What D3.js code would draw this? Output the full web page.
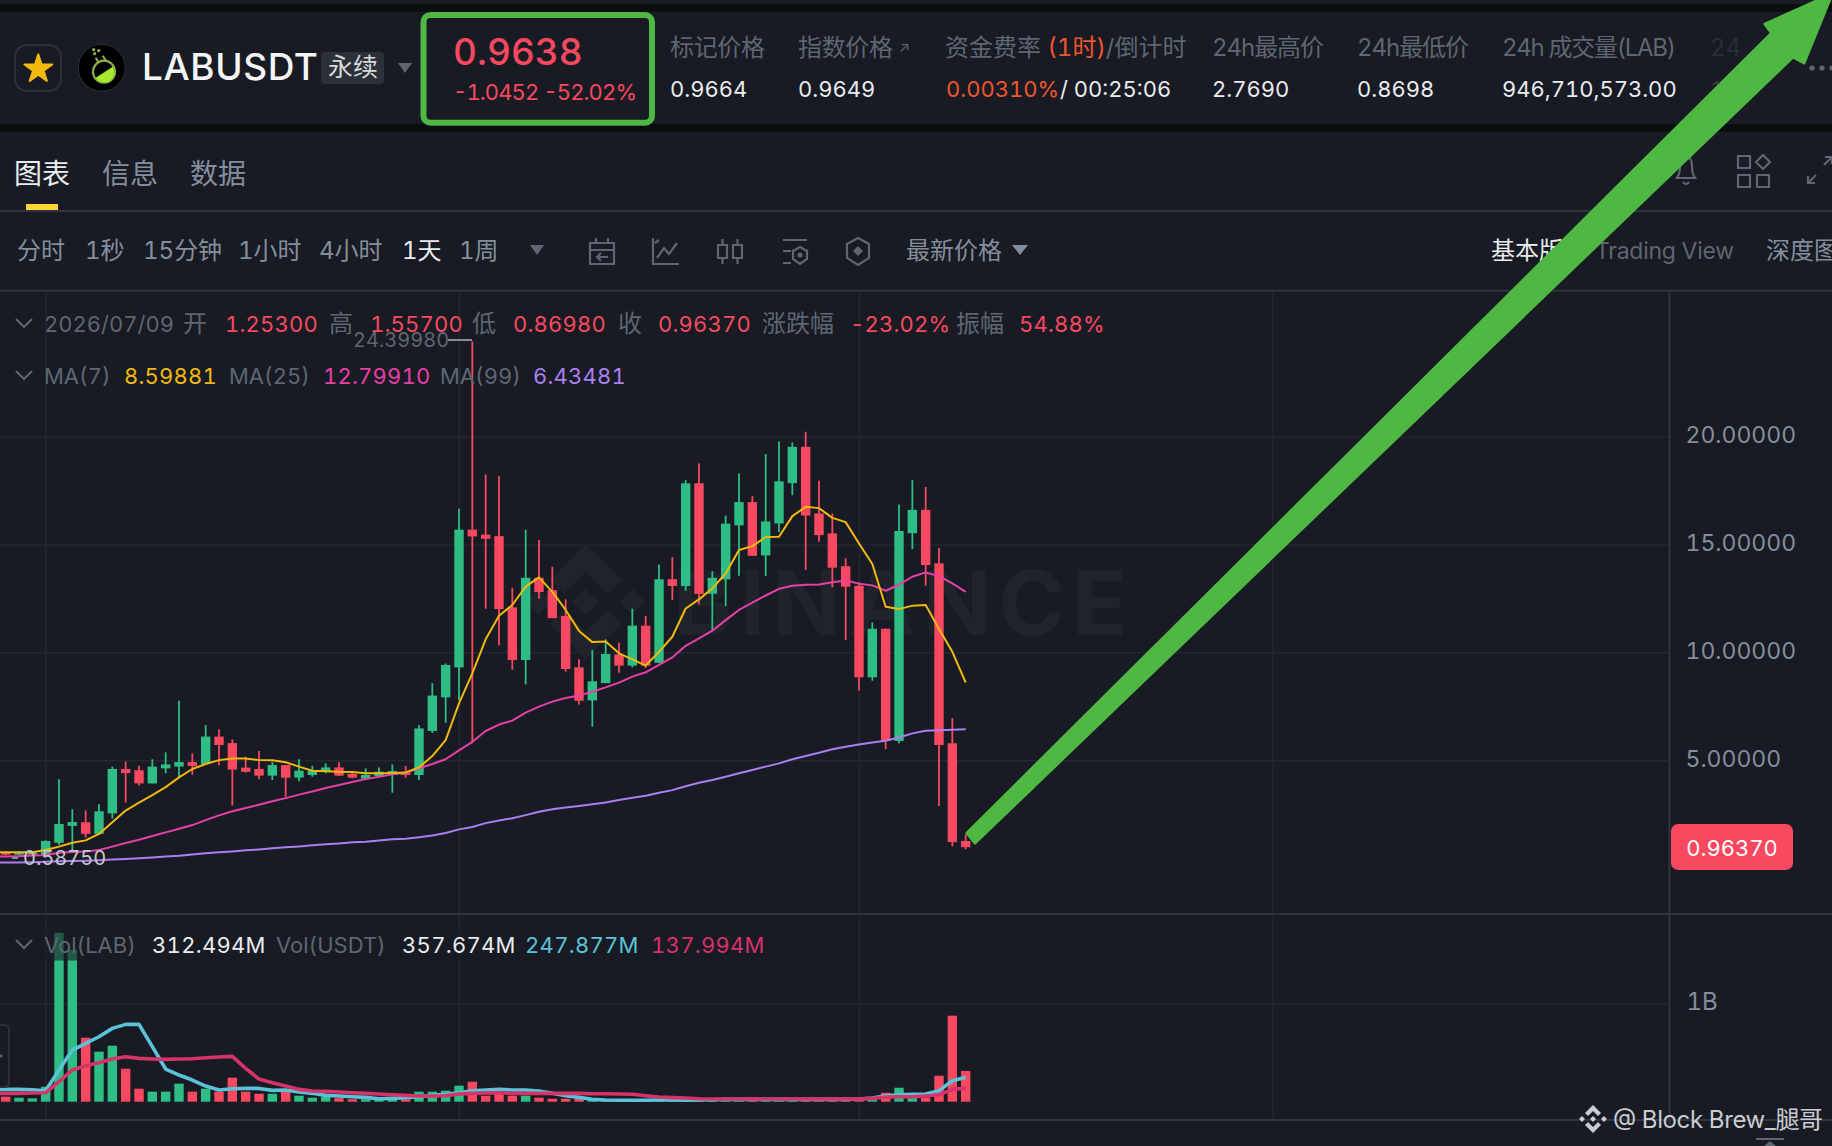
<!DOCTYPE html>
<html>
<head>
<meta charset="utf-8">
<script src="https://d3js.org/d3.v7.min.js"></script>
<style>
  html, body { margin: 0; padding: 0; background: #181b23; overflow: hidden; }
  svg { display: block; }
  text { font-family: Inter, "Noto Sans CJK SC", sans-serif; font-variant-numeric: tabular-nums; }
</style>
</head>
<body>
<div id="chart"></div>
<script>
// daily candles, first one is 2026-04-27 (just off the left edge), last one 2026-07-09
const firstDay = "2026-04-27";
const opens = [0.70,0.72,0.62,0.62,0.60,1.17,1.95,2.12,1.58,2.53,4.59,4.53,3.92,4.62,4.70,4.91,4.82,6.09,5.79,4.65,4.59,4.28,4.77,4.19,4.31,4.46,4.66,4.36,4.14,4.26,4.31,4.46,4.31,6.35,7.91,9.30,15.68,15.45,15.38,12.08,9.64,13.45,12.88,11.68,9.30,7.77,8.57,9.90,9.38,11.23,9.51,13.38,13.07,17.83,12.71,13.38,15.88,16.96,14.49,15.97,17.84,19.52,16.43,15.51,13.99,13.08,8.84,11.09,5.89,15.52,16.60,14.12,5.78,1.253];
const highs = [0.75,0.76,0.76,0.75,1.28,4.11,2.73,2.67,2.95,4.70,4.93,4.74,5.04,5.36,7.75,5.31,6.63,6.43,5.96,5.16,5.42,4.91,4.77,5.04,4.74,4.85,4.91,4.46,4.62,4.66,4.80,4.73,6.63,8.57,9.48,16.65,24.3998,18.24,18.16,12.99,15.68,15.20,13.96,12.45,9.68,10.10,10.60,10.44,12.02,11.69,14.07,14.41,17.98,18.75,13.75,16.33,18.29,17.24,19.18,19.77,19.73,20.22,17.95,16.43,14.36,13.24,11.38,11.09,16.85,17.98,17.66,14.83,6.94,1.557];
const lows = [0.65,0.59,0.59,0.60,0.5875,1.07,0.76,1.41,1.53,2.29,3.03,3.82,3.92,4.39,4.16,4.32,4.82,4.76,2.89,4.42,4.11,4.08,3.31,4.02,4.23,4.39,4.26,4.16,4.11,4.23,3.49,4.19,4.08,6.26,6.73,7.78,5.78,12.02,10.32,9.19,8.51,12.48,11.58,9.10,7.58,6.55,8.57,9.05,9.30,9.27,9.51,12.42,12.85,12.22,11.03,12.14,13.55,14.47,13.53,15.57,17.28,13.81,15.12,13.01,10.57,8.23,8.68,5.51,5.78,14.78,13.08,2.87,1.00,0.8698];
const closes = [0.72,0.62,0.72,0.72,1.25,2.04,2.13,1.58,2.63,4.59,4.40,3.92,4.70,4.80,4.91,4.73,6.09,5.70,4.56,4.46,4.28,4.77,4.19,4.51,4.51,4.66,4.28,4.19,4.31,4.46,4.49,4.31,6.47,7.99,9.41,15.68,15.37,15.26,12.00,9.64,13.45,12.79,11.58,9.22,7.75,8.65,9.92,9.38,11.23,9.38,13.38,13.07,17.83,12.70,13.45,15.96,16.96,14.47,16.06,17.92,19.52,16.34,15.43,13.92,13.04,8.84,11.09,5.89,15.62,16.60,14.04,5.70,1.20,0.9637];

const ma7 = [0.73,0.73,0.73,0.73,0.83,0.99,1.17,1.28,1.58,2.12,2.66,3.03,3.38,3.75,4.20,4.59,4.82,5.00,5.08,5.07,5.00,4.99,4.90,4.70,4.51,4.49,4.46,4.45,4.39,4.39,4.40,4.43,4.66,5.19,5.93,7.63,9.02,10.60,11.69,12.19,13.04,13.47,12.80,11.96,10.99,10.47,10.50,9.95,9.67,9.38,10.02,10.72,12.03,12.45,12.96,13.65,14.74,14.92,15.34,15.35,16.31,16.74,16.68,16.23,16.03,15.04,14.09,12.11,12.00,12.16,12.19,11.08,10.02,8.59881];
const ma25 = [0.53,0.53,0.55,0.58,0.60,0.71,0.74,0.76,0.83,0.99,1.16,1.31,1.48,1.65,1.82,1.99,2.22,2.44,2.63,2.78,2.93,3.09,3.24,3.40,3.55,3.71,3.85,3.99,4.12,4.23,4.34,4.42,4.62,4.82,5.04,5.45,5.85,6.35,6.65,6.83,7.20,7.48,7.71,7.88,8.00,8.17,8.37,8.59,8.87,9.07,9.41,9.76,10.30,10.64,11.00,11.49,11.96,12.30,12.63,12.94,13.08,13.13,13.14,13.24,13.33,13.18,13.10,12.85,13.13,13.50,13.70,13.53,13.19,12.7991];
const ma99 = [0.25,0.25,0.26,0.27,0.29,0.31,0.33,0.34,0.36,0.39,0.42,0.45,0.49,0.53,0.57,0.63,0.68,0.73,0.77,0.82,0.86,0.91,0.96,1.00,1.05,1.10,1.14,1.19,1.22,1.28,1.33,1.36,1.42,1.51,1.62,1.79,1.90,2.08,2.20,2.31,2.45,2.61,2.72,2.80,2.87,2.95,3.04,3.15,3.26,3.35,3.49,3.61,3.79,3.95,4.08,4.23,4.39,4.54,4.70,4.85,5.04,5.19,5.34,5.50,5.62,5.72,5.82,5.90,6.05,6.24,6.36,6.39,6.41,6.43481];

// volume in millions of LAB
const volumes = [60,51,41,34,152,1717,1544,650,508,569,335,132,102,102,183,102,132,102,244,102,81,81,102,61,41,51,36,25,25,20,30,25,102,102,112,163,203,61,81,61,61,41,30,30,30,25,25,20,20,15,15,12,15,10,10,15,15,15,15,15,15,20,15,15,15,15,20,91,142,41,41,264,874,312.494];
const volMa5 = [125,125,125,122,112,322,525,593,660,745,786,786,559,332,271,220,159,119,132,135,135,115,119,98,85,64,58,51,44,30,34,41,51,64,75,91,112,119,125,119,119,108,85,61,44,24,17,14,14,14,17,17,14,17,20,24,24,24,24,24,24,24,24,24,24,27,37,61,71,75,78,112,213,247.877];
const volMa10 = [85,85,85,88,91,203,322,366,396,434,457,440,434,430,434,437,447,454,461,339,230,193,159,125,108,105,98,91,85,78,71,64,58,58,61,78,85,88,91,85,85,85,85,85,85,81,81,78,75,61,47,41,37,30,27,27,27,27,27,27,27,27,27,27,27,27,34,47,51,51,58,71,125,137.994];

const priceTicks = [5, 10, 15, 20];
const volTicks = [1000];
const monthStarts = ["2026-05-01", "2026-06-01", "2026-07-01", "2026-08-01"];

// header texts
const statLabels = ["标记价格", "指数价格", "24h最高价", "24h最低价", "24h 成交量(LAB)"];
const statWidths = [95, 95, 112, 112, 174];
const statValues = ["0.9664", "0.9649", "2.7690", "0.8698", "946,710,573.00"];
const statX = [670, 798, 1212, 1357, 1502];
const tabNames = ["图表", "信息", "数据"];
const tabX = [14, 102, 190];
const intervals = ["分时", "1秒", "15分钟", "1小时", "4小时", "1天", "1周"];
const intervalX = [17, 85, 143, 238, 319, 402, 459];
const legendOhlc = ["开", "1.25300", "高", "1.55700", "低", "0.86980", "收", "0.96370", "涨跌幅", "-23.02%", "振幅", "54.88%"];
const legendOhlcX = [183, 225, 329, 370, 472, 513, 618, 658, 762, 850, 956, 1019];

const W = 1832, H = 1146;
const axisX = 1669.5, paneTop = 291, paneMid = 914, paneBottom = 1120;
const c = {
  bg: "#181b23", dark: "#0b0e11", line: "#2f3440", grid: "#23272f",
  up: "#2ebd85", down: "#f84960", muted: "#5e6673", tick: "#848e9c", white: "#eaecef",
  yellow: "#f0b90b", pink: "#e83fa8", purple: "#ab7ff0", teal: "#5bc2d8", crimson: "#d5336a",
  arrow: "#4fb843", wm: "#20232a"
};

const svg = d3.select("#chart").append("svg").attr("width", W).attr("height", H);
svg.append("rect").attr("width", W).attr("height", H).attr("fill", c.bg);

const parse = d3.utcParse("%Y-%m-%d");
const dates = opens.map((d, i) => d3.utcDay.offset(parse(firstDay), i));

const x = d3.scaleUtc().domain([dates[0], dates[dates.length - 1]]).range([-7.67, 965.67]);
const y = d3.scaleLinear().domain([0, 20]).range([868, 436.5]);
const yVol = d3.scaleLinear().domain([0, 1000]).range([1101.7, 1003.3]);

function label(g, txt, px, py, size, fill, anchor) {
  return g.append("text").attr("x", px).attr("y", py).attr("font-size", size)
    .attr("fill", fill).attr("text-anchor", anchor || "start").text(txt);
}
function hline(g, x1, x2, py, col, w) {
  g.append("line").attr("x1", x1).attr("x2", x2).attr("y1", py).attr("y2", py).attr("stroke", col).attr("stroke-width", w);
}

// top bar
const head = svg.append("g");
head.append("rect").attr("y", 4).attr("width", W).attr("height", 8).attr("fill", c.dark);
head.append("rect").attr("y", 124).attr("width", W).attr("height", 8).attr("fill", c.dark);

head.append("rect").attr("x", 15).attr("y", 45).attr("width", 46).attr("height", 46).attr("rx", 12)
  .attr("fill", "none").attr("stroke", "#2b303b").attr("stroke-width", 2);
head.append("path").attr("transform", "translate(38.3,69)")
  .attr("d", d3.symbol(d3.symbolStar, 240)()).attr("fill", "#f3b90c").attr("stroke", "#f3b90c")
  .attr("stroke-width", 2).attr("stroke-linejoin", "round");

// coin logo, little flask
const logo = head.append("g").attr("transform", "translate(101.7,67.7)");
logo.append("circle").attr("r", 23.5).attr("fill", "#000").attr("stroke", "#2b303b").attr("stroke-width", 1);
logo.append("circle").attr("cx", 2.3).attr("cy", 4).attr("r", 11).attr("fill", "none").attr("stroke", "#8fae4a").attr("stroke-width", 2.2);
logo.append("path").attr("d", "M-6,-10 L-3,-5 M1,-12 L5,-6").attr("stroke", "#8fae4a").attr("stroke-width", 2);
logo.append("path").attr("d", "M-6,10 L11,-1 A10,10 0 0 1 -6,10 Z").attr("fill", "#a8ea2c");
logo.selectAll("circle.b").data([[-7, -14], [-3, -17], [-8, -18]]).enter().append("circle")
  .attr("cx", d => d[0]).attr("cy", d => d[1]).attr("r", 1.6).attr("fill", "#8fae4a");

label(head, "LABUSDT", 142, 80, 37, "#f4f5f6").attr("font-weight", 500).attr("textLength", 176);
head.append("rect").attr("x", 321).attr("y", 52).attr("width", 63).attr("height", 32).attr("rx", 4).attr("fill", "#2b3039");
label(head, "永续", 328, 76, 25, "#d5d8dc");
head.append("path").attr("d", "M398,63 L412,63 L405,73 Z").attr("fill", c.muted);

head.append("rect").attr("x", 423.5).attr("y", 15).attr("width", 228.5).attr("height", 107.7).attr("rx", 7)
  .attr("fill", "none").attr("stroke", c.arrow).attr("stroke-width", 6);
label(head, "0.9638", 453, 65, 37, c.down).attr("font-weight", 500);
label(head, "-1.0452 -52.02%", 453, 100, 22, c.down).attr("textLength", 184);

statLabels.forEach((t, i) => label(head, t, statX[i], 56, 24, c.muted).attr("textLength", statWidths[i]));
statValues.forEach((t, i) => label(head, t, statX[i], 97, 22, c.white));
label(head, "↗", 899, 52, 14, c.muted);

const fund = label(head, "资金费率 ", 945, 56, 24, c.muted);
fund.append("tspan").attr("fill", "#f0562d").text("(1时)");
fund.append("tspan").text("/倒计时");
label(head, "0.00310%", 946, 97, 22, "#f0562d");
label(head, "/ 00:25:06", 1060, 97, 22, c.white);
label(head, "24", 1710, 56, 24, c.muted).attr("opacity", 0.25);
label(head, "1", 1710, 97, 22, c.white).attr("opacity", 0.15);
head.selectAll("circle.dot").data([0, 1, 2]).enter().append("circle")
  .attr("cx", d => 1812 + d * 10).attr("cy", 68).attr("r", 2.6).attr("fill", c.muted);

// tabs and toolbar
const bar = svg.append("g");
tabNames.forEach((t, i) => label(bar, t, tabX[i], 184, 28, i == 0 ? c.white : c.tick));
bar.append("rect").attr("x", 26).attr("y", 204).attr("width", 32).attr("height", 6).attr("fill", "#fcd535");
hline(bar, 0, W, 211, c.line, 2);
hline(bar, 0, W, 290.7, c.line, 2);
intervals.forEach((t, i) => label(bar, t, intervalX[i], 259, 24, t == "1天" ? c.white : c.tick));
bar.append("path").attr("d", "M530,245 L544,245 L537,255 Z").attr("fill", c.muted);

const iconPaths = [
  "M590,243 H614 V264 H590 Z M590,250 H614 M596,238 V243 M608,238 V243 M608,257 H597 M601,253 L597,257 L601,261",
  "M653,238 V264 H679 M657,258 L664,248 L669,254 L677,243 M655,243 L659,240",
  "M718,245 H727 V258 H718 Z M722.5,239 V245 M722.5,258 V264 M733,245 H742 V258 H733 Z M737.5,239 V245 M737.5,258 V264",
  "M783,240 H807 M783,251 H791 M783,263 H791 M800,247 L807,251 V259 L800,264 L793,259 V251 Z",
  "M858,238 L869,244 V258 L858,265 L847,258 V244 Z"
];
bar.selectAll("path.icon").data(iconPaths).enter().append("path").attr("d", d => d)
  .attr("fill", "none").attr("stroke", c.muted).attr("stroke-width", 2.2);
bar.append("circle").attr("cx", 800).attr("cy", 255).attr("r", 2.5).attr("fill", c.muted);
bar.append("path").attr("d", "M858,246 L863,251 L858,256 L853,251 Z").attr("fill", c.muted);

label(bar, "最新价格", 906, 259, 24, c.tick);
bar.append("path").attr("d", "M1012,245 L1028,245 L1020,255 Z").attr("fill", c.tick);
label(bar, "基本版", 1491, 259, 24, c.white);
label(bar, "Trading View", 1595, 259, 23, c.muted).attr("textLength", 139);
label(bar, "深度图", 1766, 259, 24, c.tick);

const topIcons = [
  "M1677,178 Q1680,174 1680,166 Q1680,157 1686,157 Q1692,157 1692,166 Q1692,174 1695,178 Z M1683,182 Q1686,186 1689,182",
  "M1738,156 H1750 V168 H1738 Z M1738,175 H1750 V187 H1738 Z M1757,175 H1769 V187 H1757 Z M1763,155 L1770,162 L1763,169 L1756,162 Z",
  "M1808,183 L1816,175 M1808,176 V183 H1815 M1824,165 L1832,157 M1825,157 H1832 V164"
];
bar.selectAll("path.top").data(topIcons).enter().append("path").attr("d", d => d)
  .attr("fill", "none").attr("stroke", c.muted).attr("stroke-width", 2.2);

// grid, from scales
const gridG = svg.append("g");
gridG.append("g").attr("transform", `translate(0,${paneTop})`)
  .call(d3.axisBottom(x).tickValues(monthStarts.map(parse)).tickSize(paneBottom - paneTop).tickFormat(""))
  .call(g => g.select(".domain").remove())
  .selectAll("line").attr("stroke", c.grid).attr("stroke-width", 1.5);
gridG.append("g").attr("transform", `translate(${axisX},0)`)
  .call(d3.axisLeft(y).tickValues(priceTicks).tickSize(axisX).tickFormat(""))
  .call(g => g.select(".domain").remove())
  .selectAll("line").attr("stroke", c.grid).attr("stroke-width", 1.5);
gridG.append("g").attr("transform", `translate(${axisX},0)`)
  .call(d3.axisLeft(yVol).tickValues(volTicks).tickSize(axisX).tickFormat(""))
  .call(g => g.select(".domain").remove())
  .selectAll("line").attr("stroke", c.grid).attr("stroke-width", 1.5);

hline(gridG, 0, W, paneMid, c.line, 2);
hline(gridG, 0, W, paneBottom, c.line, 2);
gridG.append("line").attr("x1", axisX).attr("x2", axisX).attr("y1", paneTop).attr("y2", paneBottom + 8)
  .attr("stroke", c.line).attr("stroke-width", 2);

// price and volume axis labels
svg.append("g").attr("transform", `translate(${axisX},-1)`)
  .call(d3.axisRight(y).tickValues(priceTicks).tickSize(0).tickPadding(16).tickFormat(d => d.toFixed(5)))
  .call(g => g.select(".domain").remove())
  .selectAll("text").attr("font-size", 23).attr("font-family", "Inter").attr("fill", c.tick);
svg.append("g").attr("transform", `translate(${axisX},-1)`)
  .call(d3.axisRight(yVol).tickValues(volTicks).tickSize(0).tickPadding(17).tickFormat(() => "1B"))
  .call(g => g.select(".domain").remove())
  .selectAll("text").attr("font-size", 24).attr("font-family", "Inter").attr("fill", c.tick);

// watermark
const wm = svg.append("g").attr("fill", c.wm);
const wmLogo = wm.append("g").attr("transform", "translate(585.7,601.7)");
wmLogo.append("path").attr("d", "M0,-58 L36,-22 L22,-8 L0,-30 L-22,-8 L-36,-22 Z");
wmLogo.append("path").attr("d", "M0,58 L36,22 L22,8 L0,30 L-22,8 L-36,22 Z");
wmLogo.append("path").attr("d", "M0,-13 L13,0 L0,13 L-13,0 Z");
wmLogo.append("path").attr("d", "M-47,-13 L-34,0 L-47,13 L-60,0 Z");
wmLogo.append("path").attr("d", "M47,-13 L60,0 L47,13 L34,0 Z");
wm.append("text").attr("x", 673).attr("y", 635).attr("font-size", 90).attr("font-weight", 700)
  .attr("textLength", 454).attr("lengthAdjust", "spacing").text("BINANCE");

// candles
const idx = d3.range(opens.length);
const colorAt = i => closes[i] >= opens[i] ? c.up : c.down;
const bodyW = 9.4;

const candles = svg.append("g");
candles.selectAll("line").data(idx).enter().append("line")
  .attr("x1", i => x(dates[i])).attr("x2", i => x(dates[i]))
  .attr("y1", i => y(highs[i])).attr("y2", i => y(lows[i]))
  .attr("stroke", colorAt).attr("stroke-width", 1.8);
candles.selectAll("rect").data(idx).enter().append("rect")
  .attr("x", i => x(dates[i]) - bodyW / 2)
  .attr("y", i => y(Math.max(opens[i], closes[i])))
  .attr("width", bodyW)
  .attr("height", i => Math.abs(y(opens[i]) - y(closes[i])))
  .attr("fill", colorAt);

// moving averages
function drawLine(vals, scale, col, w) {
  svg.append("path").datum(vals)
    .attr("d", d3.line().x((d, i) => x(dates[i])).y(d => scale(d)))
    .attr("fill", "none").attr("stroke", col).attr("stroke-width", w).attr("stroke-linejoin", "round");
}
drawLine(ma99, y, c.purple, 2);
drawLine(ma25, y, c.pink, 2);
drawLine(ma7, y, c.yellow, 2);

// volume bars
svg.append("g").selectAll("rect").data(idx).enter().append("rect")
  .attr("x", i => x(dates[i]) - bodyW / 2)
  .attr("y", i => yVol(volumes[i]))
  .attr("width", bodyW)
  .attr("height", i => yVol(0) - yVol(volumes[i]))
  .attr("fill", colorAt);
drawLine(volMa5, yVol, c.teal, 3.6);
drawLine(volMa10, yVol, c.crimson, 3.6);

// the volume legend sits on a see-through strip
svg.append("rect").attr("x", 0).attr("y", 931).attr("width", 770).attr("height", 29.5).attr("fill", c.bg).attr("opacity", 0.62);

// legends over the chart
const leg = svg.append("g");
const chevron = py => leg.append("path").attr("d", `M16,${py - 4} L24,${py + 4} L32,${py - 4}`)
  .attr("fill", "none").attr("stroke", c.muted).attr("stroke-width", 2);
chevron(323); chevron(375); chevron(944);

label(leg, "2026/07/09", 44, 332, 22, c.muted);
legendOhlc.forEach((t, i) => label(leg, t, legendOhlcX[i], 332, i % 2 ? 22 : 24, i % 2 ? c.down : c.muted).attr("letter-spacing", i % 2 ? 0.2 : 0));
label(leg, "24.39980", 353, 347, 20, c.muted);
hline(leg, 448, 472, 340, c.tick, 2);

const rowMa = [["MA(7)", 44, c.muted], ["8.59881", 124, c.yellow], ["MA(25)", 229, c.muted], ["12.79910", 323, c.pink], ["MA(99)", 440, c.muted], ["6.43481", 533, c.purple]];
rowMa.forEach(d => label(leg, d[0], d[1], 384, 22, d[2]).attr("letter-spacing", d[2] == c.muted ? 0 : 0.2));

label(leg, "0.58750", 23, 865, 20, "#c4c6ca");
hline(leg, 12, 18, 858, c.tick, 2);

const rowVol = [["Vol(LAB)", 44, c.muted], ["312.494M", 152, c.white], ["Vol(USDT)", 276, c.muted], ["357.674M", 402, c.white], ["247.877M", 525, c.teal], ["137.994M", 651, c.crimson]];
rowVol.forEach(d => label(leg, d[0], d[1], 953, 22, d[2]).attr("letter-spacing", d[2] == c.muted ? 0 : 0.3));

// left drawer handle
leg.append("path").attr("d", "M0,1025 H4 Q9,1025 9,1030 V1082 Q9,1087 4,1087 H0").attr("fill", "none").attr("stroke", "#2b303b").attr("stroke-width", 2);
leg.append("circle").attr("cx", 1).attr("cy", 1056).attr("r", 1.4).attr("fill", c.muted);

// last price tag
svg.append("rect").attr("x", 1671).attr("y", 824).attr("width", 122).attr("height", 46).attr("rx", 7).attr("fill", c.down);
label(svg, "0.96370", 1732, 856, 22, "#fff", "middle");

// corner marker and author mark
hline(svg, 1756, 1784, 1139, c.muted, 2);
svg.append("path").attr("d", "M1764,1146 L1770,1141 L1776,1146 Z").attr("fill", c.muted);
const mark = svg.append("g").attr("fill", "#c9ccd1");
mark.append("g").attr("transform", "translate(1593,1119)").call(g => {
  g.append("path").attr("d", "M0,-14 L8,-6 L5,-3 L0,-8 L-5,-3 L-8,-6 Z");
  g.append("path").attr("d", "M0,14 L8,6 L5,3 L0,8 L-5,3 L-8,6 Z");
  g.append("path").attr("d", "M0,-3 L3,0 L0,3 L-3,0 Z");
  g.append("path").attr("d", "M-11,-3 L-8,0 L-11,3 L-14,0 Z");
  g.append("path").attr("d", "M11,-3 L14,0 L11,3 L8,0 Z");
});
label(mark, "@ Block Brew_腿哥", 1613, 1128, 24, "#c9ccd1").attr("textLength", 210);

// big green arrow on top of everything
svg.append("path")
  .attr("d", "M967,833 L1771.7,33 L1765,24 L1832,-6 L1804,63 L1793,57 L975,843 Z")
  .attr("fill", c.arrow).attr("stroke", c.arrow).attr("stroke-width", 3).attr("stroke-linejoin", "round");
</script>
</body>
</html>
